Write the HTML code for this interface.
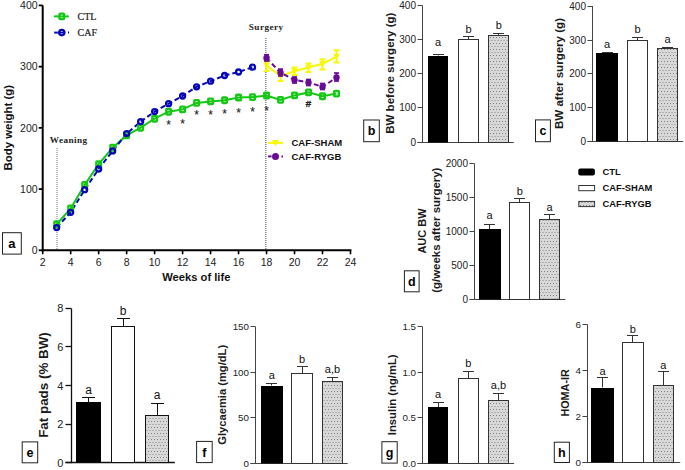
<!DOCTYPE html>
<html><head><meta charset="utf-8"><title>Figure</title>
<style>html,body{margin:0;padding:0;background:#fff;}body{width:685px;height:470px;overflow:hidden;font-family:"Liberation Sans",sans-serif;}svg{display:block;}</style>
</head><body>
<svg width="685" height="470" viewBox="0 0 685 470">
<defs><pattern id="dots" x="0" y="0" width="3" height="6" patternUnits="userSpaceOnUse"><rect width="3" height="6" fill="#d8d8d8"/><rect x="1" y="1" width="1" height="1" fill="#808080"/><rect x="2.5" y="4" width="1" height="1" fill="#8a8a8a"/><rect x="-0.5" y="4" width="1" height="1" fill="#8a8a8a"/></pattern></defs>
<rect width="685" height="470" fill="#fff"/>
<line x1="57" y1="148" x2="57" y2="249" stroke="#777" stroke-width="1" stroke-dasharray="1,1"/>
<line x1="265.8" y1="38" x2="265.8" y2="249" stroke="#6a6a6a" stroke-width="1.2" stroke-dasharray="1,1"/>
<line x1="42.7" y1="5.4" x2="42.7" y2="251.3" stroke="#000" stroke-width="2" />
<line x1="41.7" y1="250.3" x2="351.4" y2="250.3" stroke="#000" stroke-width="2" />
<line x1="38.7" y1="250.3" x2="42.7" y2="250.3" stroke="#000" stroke-width="1.8" />
<text x="37.6" y="254.1" font-size="10.5" text-anchor="end" font-weight="normal" font-family='"Liberation Sans", sans-serif' fill="#222" >0</text>
<line x1="38.7" y1="189.08" x2="42.7" y2="189.08" stroke="#000" stroke-width="1.8" />
<text x="37.6" y="192.88" font-size="10.5" text-anchor="end" font-weight="normal" font-family='"Liberation Sans", sans-serif' fill="#222" >100</text>
<line x1="38.7" y1="127.86" x2="42.7" y2="127.86" stroke="#000" stroke-width="1.8" />
<text x="37.6" y="131.66" font-size="10.5" text-anchor="end" font-weight="normal" font-family='"Liberation Sans", sans-serif' fill="#222" >200</text>
<line x1="38.7" y1="66.64" x2="42.7" y2="66.64" stroke="#000" stroke-width="1.8" />
<text x="37.6" y="70.44" font-size="10.5" text-anchor="end" font-weight="normal" font-family='"Liberation Sans", sans-serif' fill="#222" >300</text>
<line x1="38.7" y1="5.42" x2="42.7" y2="5.42" stroke="#000" stroke-width="1.8" />
<text x="37.6" y="9.22" font-size="10.5" text-anchor="end" font-weight="normal" font-family='"Liberation Sans", sans-serif' fill="#222" >400</text>
<line x1="42.7" y1="250.3" x2="42.7" y2="254.3" stroke="#000" stroke-width="1.6" />
<text x="42.7" y="266" font-size="10.5" text-anchor="middle" font-weight="normal" font-family='"Liberation Sans", sans-serif' fill="#222" >2</text>
<line x1="70.68" y1="250.3" x2="70.68" y2="254.3" stroke="#000" stroke-width="1.6" />
<text x="70.68" y="266" font-size="10.5" text-anchor="middle" font-weight="normal" font-family='"Liberation Sans", sans-serif' fill="#222" >4</text>
<line x1="98.66" y1="250.3" x2="98.66" y2="254.3" stroke="#000" stroke-width="1.6" />
<text x="98.66" y="266" font-size="10.5" text-anchor="middle" font-weight="normal" font-family='"Liberation Sans", sans-serif' fill="#222" >6</text>
<line x1="126.64" y1="250.3" x2="126.64" y2="254.3" stroke="#000" stroke-width="1.6" />
<text x="126.64" y="266" font-size="10.5" text-anchor="middle" font-weight="normal" font-family='"Liberation Sans", sans-serif' fill="#222" >8</text>
<line x1="154.62" y1="250.3" x2="154.62" y2="254.3" stroke="#000" stroke-width="1.6" />
<text x="154.62" y="266" font-size="10.5" text-anchor="middle" font-weight="normal" font-family='"Liberation Sans", sans-serif' fill="#222" >10</text>
<line x1="182.6" y1="250.3" x2="182.6" y2="254.3" stroke="#000" stroke-width="1.6" />
<text x="182.6" y="266" font-size="10.5" text-anchor="middle" font-weight="normal" font-family='"Liberation Sans", sans-serif' fill="#222" >12</text>
<line x1="210.58" y1="250.3" x2="210.58" y2="254.3" stroke="#000" stroke-width="1.6" />
<text x="210.58" y="266" font-size="10.5" text-anchor="middle" font-weight="normal" font-family='"Liberation Sans", sans-serif' fill="#222" >14</text>
<line x1="238.56" y1="250.3" x2="238.56" y2="254.3" stroke="#000" stroke-width="1.6" />
<text x="238.56" y="266" font-size="10.5" text-anchor="middle" font-weight="normal" font-family='"Liberation Sans", sans-serif' fill="#222" >16</text>
<line x1="266.54" y1="250.3" x2="266.54" y2="254.3" stroke="#000" stroke-width="1.6" />
<text x="266.54" y="266" font-size="10.5" text-anchor="middle" font-weight="normal" font-family='"Liberation Sans", sans-serif' fill="#222" >18</text>
<line x1="294.52" y1="250.3" x2="294.52" y2="254.3" stroke="#000" stroke-width="1.6" />
<text x="294.52" y="266" font-size="10.5" text-anchor="middle" font-weight="normal" font-family='"Liberation Sans", sans-serif' fill="#222" >20</text>
<line x1="322.5" y1="250.3" x2="322.5" y2="254.3" stroke="#000" stroke-width="1.6" />
<text x="322.5" y="266" font-size="10.5" text-anchor="middle" font-weight="normal" font-family='"Liberation Sans", sans-serif' fill="#222" >22</text>
<line x1="350.48" y1="250.3" x2="350.48" y2="254.3" stroke="#000" stroke-width="1.6" />
<text x="350.48" y="266" font-size="10.5" text-anchor="middle" font-weight="normal" font-family='"Liberation Sans", sans-serif' fill="#222" >24</text>
<text x="196.3" y="281" font-size="11.2" text-anchor="middle" font-weight="bold" font-family='"Liberation Sans", sans-serif' fill="#111" >Weeks of life</text>
<text transform="translate(11.9,127.7) rotate(-90)" x="0" y="0" font-size="11.4" text-anchor="middle" font-weight="bold" font-family='"Liberation Sans", sans-serif' fill="#111" >Body weight (g)</text>
<rect x="2.5" y="232.7" width="18.8" height="21.4" fill="#fff" stroke="#222" stroke-width="1" />
<text x="11.9" y="248.08" font-size="13" text-anchor="middle" font-weight="bold" font-family='"Liberation Sans", sans-serif' fill="#000" >a</text>
<polyline points="56.69,224.3 70.68,208.4 84.67,184.9 98.66,164.2 112.65,147.8 126.64,135.4 140.63,127.7 154.62,118.7 168.61,111.7 182.6,109.4 196.59,102.9 210.58,101.4 224.57,100.2 238.56,97.5 252.55,97.1 266.54,95.5 280.53,99.9 294.52,95.4 308.51,92.4 322.5,96.3 336.49,93.6" fill="none" stroke="#14c814" stroke-width="2"/>
<polyline points="56.69,227.6 70.68,212.3 84.67,189.7 98.66,169 112.65,150.9 126.64,133.6 140.63,121.6 154.62,111.6 168.61,103.7 182.6,96 196.59,86.8 210.58,81.2 224.57,75.5 238.56,72 252.55,67.2" fill="none" stroke="#0606b8" stroke-width="2" stroke-dasharray="5,3"/>
<polyline points="266.54,65.5 280.53,76 294.52,71.3 308.51,67.5 322.5,63.8 336.49,56.7" fill="none" stroke="#f8f800" stroke-width="2"/>
<polyline points="266.54,57.9 280.53,72.8 294.52,79.9 308.51,82.4 322.5,86.9 336.49,77.5" fill="none" stroke="#6a0a98" stroke-width="2" stroke-dasharray="5,3"/>
<rect x="54.39" y="221.55" width="4.6" height="5.5" fill="none" stroke="#14c814" stroke-width="2.4" rx="0.6"/>
<rect x="68.38" y="205.65" width="4.6" height="5.5" fill="none" stroke="#14c814" stroke-width="2.4" rx="0.6"/>
<rect x="82.37" y="182.15" width="4.6" height="5.5" fill="none" stroke="#14c814" stroke-width="2.4" rx="0.6"/>
<rect x="96.36" y="161.45" width="4.6" height="5.5" fill="none" stroke="#14c814" stroke-width="2.4" rx="0.6"/>
<rect x="110.35" y="145.05" width="4.6" height="5.5" fill="none" stroke="#14c814" stroke-width="2.4" rx="0.6"/>
<rect x="124.34" y="132.65" width="4.6" height="5.5" fill="none" stroke="#14c814" stroke-width="2.4" rx="0.6"/>
<rect x="138.33" y="124.95" width="4.6" height="5.5" fill="none" stroke="#14c814" stroke-width="2.4" rx="0.6"/>
<rect x="152.32" y="115.95" width="4.6" height="5.5" fill="none" stroke="#14c814" stroke-width="2.4" rx="0.6"/>
<rect x="166.31" y="108.95" width="4.6" height="5.5" fill="none" stroke="#14c814" stroke-width="2.4" rx="0.6"/>
<rect x="180.3" y="106.65" width="4.6" height="5.5" fill="none" stroke="#14c814" stroke-width="2.4" rx="0.6"/>
<rect x="194.29" y="100.15" width="4.6" height="5.5" fill="none" stroke="#14c814" stroke-width="2.4" rx="0.6"/>
<rect x="208.28" y="98.65" width="4.6" height="5.5" fill="none" stroke="#14c814" stroke-width="2.4" rx="0.6"/>
<rect x="222.27" y="97.45" width="4.6" height="5.5" fill="none" stroke="#14c814" stroke-width="2.4" rx="0.6"/>
<rect x="236.26" y="94.75" width="4.6" height="5.5" fill="none" stroke="#14c814" stroke-width="2.4" rx="0.6"/>
<rect x="250.25" y="94.35" width="4.6" height="5.5" fill="none" stroke="#14c814" stroke-width="2.4" rx="0.6"/>
<rect x="264.24" y="92.75" width="4.6" height="5.5" fill="none" stroke="#14c814" stroke-width="2.4" rx="0.6"/>
<rect x="278.23" y="97.15" width="4.6" height="5.5" fill="none" stroke="#14c814" stroke-width="2.4" rx="0.6"/>
<rect x="292.22" y="92.65" width="4.6" height="5.5" fill="none" stroke="#14c814" stroke-width="2.4" rx="0.6"/>
<rect x="306.21" y="89.65" width="4.6" height="5.5" fill="none" stroke="#14c814" stroke-width="2.4" rx="0.6"/>
<rect x="320.2" y="93.55" width="4.6" height="5.5" fill="none" stroke="#14c814" stroke-width="2.4" rx="0.6"/>
<rect x="334.19" y="90.85" width="4.6" height="5.5" fill="none" stroke="#14c814" stroke-width="2.4" rx="0.6"/>
<circle cx="56.69" cy="227.6" r="2.5" fill="none" stroke="#0606b8" stroke-width="2.3"/>
<circle cx="70.68" cy="212.3" r="2.5" fill="none" stroke="#0606b8" stroke-width="2.3"/>
<circle cx="84.67" cy="189.7" r="2.5" fill="none" stroke="#0606b8" stroke-width="2.3"/>
<circle cx="98.66" cy="169" r="2.5" fill="none" stroke="#0606b8" stroke-width="2.3"/>
<circle cx="112.65" cy="150.9" r="2.5" fill="none" stroke="#0606b8" stroke-width="2.3"/>
<circle cx="126.64" cy="133.6" r="2.5" fill="none" stroke="#0606b8" stroke-width="2.3"/>
<circle cx="140.63" cy="121.6" r="2.5" fill="none" stroke="#0606b8" stroke-width="2.3"/>
<circle cx="154.62" cy="111.6" r="2.5" fill="none" stroke="#0606b8" stroke-width="2.3"/>
<circle cx="168.61" cy="103.7" r="2.5" fill="none" stroke="#0606b8" stroke-width="2.3"/>
<circle cx="182.6" cy="96" r="2.5" fill="none" stroke="#0606b8" stroke-width="2.3"/>
<circle cx="196.59" cy="86.8" r="2.5" fill="none" stroke="#0606b8" stroke-width="2.3"/>
<circle cx="210.58" cy="81.2" r="2.5" fill="none" stroke="#0606b8" stroke-width="2.3"/>
<circle cx="224.57" cy="75.5" r="2.5" fill="none" stroke="#0606b8" stroke-width="2.3"/>
<circle cx="238.56" cy="72" r="2.5" fill="none" stroke="#0606b8" stroke-width="2.3"/>
<circle cx="252.55" cy="67.2" r="2.5" fill="none" stroke="#0606b8" stroke-width="2.3"/>
<line x1="266.54" y1="60.8" x2="266.54" y2="71" stroke="#f8f800" stroke-width="2" />
<line x1="263.64" y1="60.8" x2="269.44" y2="60.8" stroke="#f8f800" stroke-width="2" />
<line x1="263.64" y1="71" x2="269.44" y2="71" stroke="#f8f800" stroke-width="2" />
<path d="M263.24,62.8 L269.84,62.8 L266.54,68.6 Z" fill="#f8f800"/>
<line x1="280.53" y1="72" x2="280.53" y2="81" stroke="#f8f800" stroke-width="2" />
<line x1="277.63" y1="72" x2="283.43" y2="72" stroke="#f8f800" stroke-width="2" />
<line x1="277.63" y1="81" x2="283.43" y2="81" stroke="#f8f800" stroke-width="2" />
<path d="M277.23,73.3 L283.83,73.3 L280.53,79.1 Z" fill="#f8f800"/>
<line x1="294.52" y1="67.5" x2="294.52" y2="75" stroke="#f8f800" stroke-width="2" />
<line x1="291.62" y1="67.5" x2="297.42" y2="67.5" stroke="#f8f800" stroke-width="2" />
<line x1="291.62" y1="75" x2="297.42" y2="75" stroke="#f8f800" stroke-width="2" />
<path d="M291.22,68.6 L297.82,68.6 L294.52,74.4 Z" fill="#f8f800"/>
<line x1="308.51" y1="63.5" x2="308.51" y2="72" stroke="#f8f800" stroke-width="2" />
<line x1="305.61" y1="63.5" x2="311.41" y2="63.5" stroke="#f8f800" stroke-width="2" />
<line x1="305.61" y1="72" x2="311.41" y2="72" stroke="#f8f800" stroke-width="2" />
<path d="M305.21,64.8 L311.81,64.8 L308.51,70.6 Z" fill="#f8f800"/>
<line x1="322.5" y1="59.3" x2="322.5" y2="69.5" stroke="#f8f800" stroke-width="2" />
<line x1="319.6" y1="59.3" x2="325.4" y2="59.3" stroke="#f8f800" stroke-width="2" />
<line x1="319.6" y1="69.5" x2="325.4" y2="69.5" stroke="#f8f800" stroke-width="2" />
<path d="M319.2,61.1 L325.8,61.1 L322.5,66.9 Z" fill="#f8f800"/>
<line x1="336.49" y1="50.3" x2="336.49" y2="62.5" stroke="#f8f800" stroke-width="2" />
<line x1="333.59" y1="50.3" x2="339.39" y2="50.3" stroke="#f8f800" stroke-width="2" />
<line x1="333.59" y1="62.5" x2="339.39" y2="62.5" stroke="#f8f800" stroke-width="2" />
<path d="M333.19,54 L339.79,54 L336.49,59.8 Z" fill="#f8f800"/>
<line x1="266.54" y1="54.8" x2="266.54" y2="61" stroke="#6a0a98" stroke-width="1.8" />
<line x1="264.04" y1="54.8" x2="269.04" y2="54.8" stroke="#6a0a98" stroke-width="1.7" />
<line x1="264.04" y1="61" x2="269.04" y2="61" stroke="#6a0a98" stroke-width="1.7" />
<circle cx="266.54" cy="57.9" r="3.2" fill="#6a0a98"/>
<line x1="280.53" y1="69.1" x2="280.53" y2="76" stroke="#6a0a98" stroke-width="1.8" />
<line x1="278.03" y1="69.1" x2="283.03" y2="69.1" stroke="#6a0a98" stroke-width="1.7" />
<line x1="278.03" y1="76" x2="283.03" y2="76" stroke="#6a0a98" stroke-width="1.7" />
<circle cx="280.53" cy="72.8" r="3.2" fill="#6a0a98"/>
<line x1="294.52" y1="77" x2="294.52" y2="83" stroke="#6a0a98" stroke-width="1.8" />
<line x1="292.02" y1="77" x2="297.02" y2="77" stroke="#6a0a98" stroke-width="1.7" />
<line x1="292.02" y1="83" x2="297.02" y2="83" stroke="#6a0a98" stroke-width="1.7" />
<circle cx="294.52" cy="79.9" r="3.2" fill="#6a0a98"/>
<line x1="308.51" y1="79.5" x2="308.51" y2="85.5" stroke="#6a0a98" stroke-width="1.8" />
<line x1="306.01" y1="79.5" x2="311.01" y2="79.5" stroke="#6a0a98" stroke-width="1.7" />
<line x1="306.01" y1="85.5" x2="311.01" y2="85.5" stroke="#6a0a98" stroke-width="1.7" />
<circle cx="308.51" cy="82.4" r="3.2" fill="#6a0a98"/>
<line x1="322.5" y1="83.5" x2="322.5" y2="89.5" stroke="#6a0a98" stroke-width="1.8" />
<line x1="320" y1="83.5" x2="325" y2="83.5" stroke="#6a0a98" stroke-width="1.7" />
<line x1="320" y1="89.5" x2="325" y2="89.5" stroke="#6a0a98" stroke-width="1.7" />
<circle cx="322.5" cy="86.9" r="3.2" fill="#6a0a98"/>
<line x1="336.49" y1="73" x2="336.49" y2="81" stroke="#6a0a98" stroke-width="1.8" />
<line x1="333.99" y1="73" x2="338.99" y2="73" stroke="#6a0a98" stroke-width="1.7" />
<line x1="333.99" y1="81" x2="338.99" y2="81" stroke="#6a0a98" stroke-width="1.7" />
<circle cx="336.49" cy="77.5" r="3.2" fill="#6a0a98"/>
<text x="168.61" y="129.4" font-size="12" text-anchor="middle" font-weight="normal" font-family='"Liberation Sans", sans-serif' fill="#222" stroke="#222" stroke-width="0.1">*</text>
<text x="182.6" y="127.5" font-size="12" text-anchor="middle" font-weight="normal" font-family='"Liberation Sans", sans-serif' fill="#222" stroke="#222" stroke-width="0.1">*</text>
<text x="196.59" y="119.3" font-size="12" text-anchor="middle" font-weight="normal" font-family='"Liberation Sans", sans-serif' fill="#222" stroke="#222" stroke-width="0.1">*</text>
<text x="210.58" y="119.3" font-size="12" text-anchor="middle" font-weight="normal" font-family='"Liberation Sans", sans-serif' fill="#222" stroke="#222" stroke-width="0.1">*</text>
<text x="224.57" y="118.3" font-size="12" text-anchor="middle" font-weight="normal" font-family='"Liberation Sans", sans-serif' fill="#222" stroke="#222" stroke-width="0.1">*</text>
<text x="238.56" y="116.8" font-size="12" text-anchor="middle" font-weight="normal" font-family='"Liberation Sans", sans-serif' fill="#222" stroke="#222" stroke-width="0.1">*</text>
<text x="252.55" y="116" font-size="12" text-anchor="middle" font-weight="normal" font-family='"Liberation Sans", sans-serif' fill="#222" stroke="#222" stroke-width="0.1">*</text>
<text x="266.54" y="114.9" font-size="12" text-anchor="middle" font-weight="normal" font-family='"Liberation Sans", sans-serif' fill="#222" stroke="#222" stroke-width="0.1">*</text>
<text x="308.51" y="107.3" font-size="9.5" text-anchor="middle" font-weight="normal" font-family='"Liberation Sans", sans-serif' fill="#222" stroke="#222" stroke-width="0.4">#</text>
<text x="49.8" y="143" font-size="9.2" text-anchor="start" font-weight="bold" font-family='"Liberation Serif", serif' fill="#222" letter-spacing="0.45">Weaning</text>
<text x="248.8" y="29.9" font-size="9.2" text-anchor="start" font-weight="bold" font-family='"Liberation Serif", serif' fill="#222" letter-spacing="0.45">Surgery</text>
<line x1="53.9" y1="16.4" x2="68.8" y2="16.4" stroke="#14c814" stroke-width="2" />
<rect x="59.5" y="13.65" width="4.6" height="5.5" fill="none" stroke="#14c814" stroke-width="2.4" rx="0.6"/>
<text x="77.6" y="20.2" font-size="10" text-anchor="start" font-weight="normal" font-family='"Liberation Serif", serif' fill="#222" stroke="#222" stroke-width="0.2">CTL</text>
<line x1="54.2" y1="32.6" x2="57.8" y2="32.6" stroke="#0606b8" stroke-width="2" />
<line x1="68" y1="32.6" x2="69" y2="32.6" stroke="#0606b8" stroke-width="2" />
<line x1="57.8" y1="32.6" x2="63.5" y2="32.6" stroke="#0606b8" stroke-width="1.4" />
<circle cx="61.8" cy="32.6" r="2.6" fill="none" stroke="#0606b8" stroke-width="2.4"/>
<text x="77.6" y="36.4" font-size="10" text-anchor="start" font-weight="normal" font-family='"Liberation Serif", serif' fill="#222" stroke="#222" stroke-width="0.2">CAF</text>
<line x1="268.1" y1="142.9" x2="283" y2="142.9" stroke="#f8f800" stroke-width="2" />
<path d="M271.9,139.9 L279.1,139.9 L275.5,146.3 Z" fill="#f8f800"/>
<text x="291.5" y="146.3" font-size="9.5" text-anchor="start" font-weight="bold" font-family='"Liberation Sans", sans-serif' fill="#111" >CAF-SHAM</text>
<line x1="268.1" y1="156.4" x2="271.6" y2="156.4" stroke="#6a0a98" stroke-width="2" />
<line x1="281.5" y1="156.4" x2="283" y2="156.4" stroke="#6a0a98" stroke-width="2" />
<circle cx="275.5" cy="156.4" r="3.5" fill="#6a0a98"/>
<text x="291.5" y="159.8" font-size="9.5" text-anchor="start" font-weight="bold" font-family='"Liberation Sans", sans-serif' fill="#111" >CAF-RYGB</text>
<line x1="422.5" y1="5.4" x2="422.5" y2="143" stroke="#444" stroke-width="1" />
<line x1="417.5" y1="142.5" x2="513.8" y2="142.5" stroke="#444" stroke-width="1" />
<line x1="417.5" y1="142.5" x2="422.5" y2="142.5" stroke="#444" stroke-width="1" />
<text x="416" y="145.6" font-size="10" text-anchor="end" font-weight="normal" font-family='"Liberation Sans", sans-serif' fill="#222" >0</text>
<line x1="417.5" y1="107.5" x2="422.5" y2="107.5" stroke="#444" stroke-width="1" />
<text x="416" y="111.45" font-size="10" text-anchor="end" font-weight="normal" font-family='"Liberation Sans", sans-serif' fill="#222" >100</text>
<line x1="417.5" y1="73.5" x2="422.5" y2="73.5" stroke="#444" stroke-width="1" />
<text x="416" y="77.3" font-size="10" text-anchor="end" font-weight="normal" font-family='"Liberation Sans", sans-serif' fill="#222" >200</text>
<line x1="417.5" y1="39.5" x2="422.5" y2="39.5" stroke="#444" stroke-width="1" />
<text x="416" y="43.15" font-size="10" text-anchor="end" font-weight="normal" font-family='"Liberation Sans", sans-serif' fill="#222" >300</text>
<line x1="417.5" y1="5.5" x2="422.5" y2="5.5" stroke="#444" stroke-width="1" />
<text x="416" y="9" font-size="10" text-anchor="end" font-weight="normal" font-family='"Liberation Sans", sans-serif' fill="#222" >400</text>
<line x1="438.5" y1="54.5" x2="438.5" y2="55.5" stroke="#333" stroke-width="1" />
<line x1="433" y1="54.5" x2="444" y2="54.5" stroke="#333" stroke-width="1" />
<rect x="428" y="56" width="20" height="86.5" fill="#000" stroke="none" stroke-width="1" />
<text x="438.15" y="46.3" font-size="11" text-anchor="middle" font-weight="normal" font-family='"Liberation Sans", sans-serif' fill="#111" >a</text>
<line x1="468.5" y1="36.5" x2="468.5" y2="39.5" stroke="#333" stroke-width="1" />
<line x1="463" y1="36.5" x2="474" y2="36.5" stroke="#333" stroke-width="1" />
<rect x="458.5" y="39.5" width="20" height="103" fill="#fff" stroke="#333" stroke-width="1" />
<text x="468.65" y="32.5" font-size="11" text-anchor="middle" font-weight="normal" font-family='"Liberation Sans", sans-serif' fill="#111" >b</text>
<line x1="498.5" y1="33.5" x2="498.5" y2="35.5" stroke="#333" stroke-width="1" />
<line x1="493" y1="33.5" x2="504" y2="33.5" stroke="#333" stroke-width="1" />
<rect x="488.5" y="35.5" width="20" height="107" fill="url(#dots)" stroke="#333" stroke-width="1" />
<text x="498.75" y="28.7" font-size="11" text-anchor="middle" font-weight="normal" font-family='"Liberation Sans", sans-serif' fill="#111" >b</text>
<text transform="translate(394.3,73.2) rotate(-90)" x="0" y="0" font-size="11.55" text-anchor="middle" font-weight="bold" font-family='"Liberation Sans", sans-serif' fill="#1a1a1a" >BW before surgery (g)</text>
<rect x="363.7" y="120" width="15.6" height="21.7" fill="#fff" stroke="#222" stroke-width="1" />
<text x="371.5" y="135.35" font-size="12.5" text-anchor="middle" font-weight="bold" font-family='"Liberation Sans", sans-serif' fill="#000" >b</text>
<line x1="592.5" y1="6" x2="592.5" y2="142" stroke="#444" stroke-width="1" />
<line x1="587.5" y1="141.5" x2="683.2" y2="141.5" stroke="#444" stroke-width="1" />
<line x1="587.5" y1="141.5" x2="592.5" y2="141.5" stroke="#444" stroke-width="1" />
<text x="586" y="145" font-size="10" text-anchor="end" font-weight="normal" font-family='"Liberation Sans", sans-serif' fill="#222" >0</text>
<line x1="587.5" y1="107.5" x2="592.5" y2="107.5" stroke="#444" stroke-width="1" />
<text x="586" y="111.2" font-size="10" text-anchor="end" font-weight="normal" font-family='"Liberation Sans", sans-serif' fill="#222" >100</text>
<line x1="587.5" y1="73.5" x2="592.5" y2="73.5" stroke="#444" stroke-width="1" />
<text x="586" y="77.4" font-size="10" text-anchor="end" font-weight="normal" font-family='"Liberation Sans", sans-serif' fill="#222" >200</text>
<line x1="587.5" y1="40.5" x2="592.5" y2="40.5" stroke="#444" stroke-width="1" />
<text x="586" y="43.6" font-size="10" text-anchor="end" font-weight="normal" font-family='"Liberation Sans", sans-serif' fill="#222" >300</text>
<line x1="587.5" y1="6.5" x2="592.5" y2="6.5" stroke="#444" stroke-width="1" />
<text x="586" y="9.8" font-size="10" text-anchor="end" font-weight="normal" font-family='"Liberation Sans", sans-serif' fill="#222" >400</text>
<line x1="607.5" y1="52.5" x2="607.5" y2="53.5" stroke="#333" stroke-width="1" />
<line x1="602" y1="52.5" x2="613" y2="52.5" stroke="#333" stroke-width="1" />
<rect x="596" y="53" width="22" height="88.5" fill="#000" stroke="none" stroke-width="1" />
<text x="607.15" y="48.3" font-size="11" text-anchor="middle" font-weight="normal" font-family='"Liberation Sans", sans-serif' fill="#111" >a</text>
<line x1="637.5" y1="37.5" x2="637.5" y2="40.5" stroke="#333" stroke-width="1" />
<line x1="632" y1="37.5" x2="643" y2="37.5" stroke="#333" stroke-width="1" />
<rect x="627.5" y="40.5" width="20" height="101" fill="#fff" stroke="#333" stroke-width="1" />
<text x="637.5" y="33.1" font-size="11" text-anchor="middle" font-weight="normal" font-family='"Liberation Sans", sans-serif' fill="#111" >b</text>
<line x1="667.5" y1="47.5" x2="667.5" y2="48.5" stroke="#333" stroke-width="1" />
<line x1="662" y1="47.5" x2="673" y2="47.5" stroke="#333" stroke-width="1" />
<rect x="657.5" y="48.5" width="20" height="93" fill="url(#dots)" stroke="#333" stroke-width="1" />
<text x="667.65" y="42.6" font-size="11" text-anchor="middle" font-weight="normal" font-family='"Liberation Sans", sans-serif' fill="#111" >a</text>
<text transform="translate(562.8,73.5) rotate(-90)" x="0" y="0" font-size="11.55" text-anchor="middle" font-weight="bold" font-family='"Liberation Sans", sans-serif' fill="#1a1a1a" >BW after surgery (g)</text>
<rect x="535.5" y="119.9" width="14.9" height="21.8" fill="#fff" stroke="#222" stroke-width="1" />
<text x="542.95" y="135.3" font-size="12.5" text-anchor="middle" font-weight="bold" font-family='"Liberation Sans", sans-serif' fill="#000" >c</text>
<line x1="474.5" y1="163.6" x2="474.5" y2="300" stroke="#444" stroke-width="1" />
<line x1="469.5" y1="299.5" x2="565.3" y2="299.5" stroke="#444" stroke-width="1" />
<line x1="469.5" y1="299.5" x2="474.5" y2="299.5" stroke="#444" stroke-width="1" />
<text x="468" y="302.8" font-size="10" text-anchor="end" font-weight="normal" font-family='"Liberation Sans", sans-serif' fill="#222" >0</text>
<line x1="469.5" y1="265.5" x2="474.5" y2="265.5" stroke="#444" stroke-width="1" />
<text x="468" y="268.95" font-size="10" text-anchor="end" font-weight="normal" font-family='"Liberation Sans", sans-serif' fill="#222" >500</text>
<line x1="469.5" y1="231.5" x2="474.5" y2="231.5" stroke="#444" stroke-width="1" />
<text x="468" y="235.1" font-size="10" text-anchor="end" font-weight="normal" font-family='"Liberation Sans", sans-serif' fill="#222" >1000</text>
<line x1="469.5" y1="197.5" x2="474.5" y2="197.5" stroke="#444" stroke-width="1" />
<text x="468" y="201.25" font-size="10" text-anchor="end" font-weight="normal" font-family='"Liberation Sans", sans-serif' fill="#222" >1500</text>
<line x1="469.5" y1="163.5" x2="474.5" y2="163.5" stroke="#444" stroke-width="1" />
<text x="468" y="167.4" font-size="10" text-anchor="end" font-weight="normal" font-family='"Liberation Sans", sans-serif' fill="#222" >2000</text>
<line x1="489.5" y1="224.5" x2="489.5" y2="229.5" stroke="#333" stroke-width="1" />
<line x1="484" y1="224.5" x2="495" y2="224.5" stroke="#333" stroke-width="1" />
<rect x="479" y="229" width="22" height="70.5" fill="#000" stroke="none" stroke-width="1" />
<text x="489.6" y="218.5" font-size="11" text-anchor="middle" font-weight="normal" font-family='"Liberation Sans", sans-serif' fill="#111" >a</text>
<line x1="519.5" y1="198.5" x2="519.5" y2="202.5" stroke="#333" stroke-width="1" />
<line x1="514" y1="198.5" x2="525" y2="198.5" stroke="#333" stroke-width="1" />
<rect x="509.5" y="202.5" width="20" height="97" fill="#fff" stroke="#333" stroke-width="1" />
<text x="519.7" y="194.8" font-size="11" text-anchor="middle" font-weight="normal" font-family='"Liberation Sans", sans-serif' fill="#111" >b</text>
<line x1="549.5" y1="214.5" x2="549.5" y2="219.5" stroke="#333" stroke-width="1" />
<line x1="544" y1="214.5" x2="555" y2="214.5" stroke="#333" stroke-width="1" />
<rect x="539.5" y="219.5" width="20" height="80" fill="url(#dots)" stroke="#333" stroke-width="1" />
<text x="549.45" y="210.8" font-size="11" text-anchor="middle" font-weight="normal" font-family='"Liberation Sans", sans-serif' fill="#111" >a</text>
<text transform="translate(426.4,231) rotate(-90)" x="0" y="0" font-size="11.0" text-anchor="middle" font-weight="bold" font-family='"Liberation Sans", sans-serif' fill="#1a1a1a" >AUC BW</text>
<text transform="translate(440.4,230.2) rotate(-90)" x="0" y="0" font-size="11.45" text-anchor="middle" font-weight="bold" font-family='"Liberation Sans", sans-serif' fill="#1a1a1a" >(g/weeks after surgery)</text>
<rect x="404.4" y="270.8" width="14.7" height="21" fill="#fff" stroke="#222" stroke-width="1" />
<text x="411.75" y="285.8" font-size="12.5" text-anchor="middle" font-weight="bold" font-family='"Liberation Sans", sans-serif' fill="#000" >d</text>
<rect x="578.3" y="168.6" width="16.6" height="6.8" rx="2" fill="#000"/>
<text x="602.4" y="175.4" font-size="9.4" text-anchor="start" font-weight="bold" font-family='"Liberation Sans", sans-serif' fill="#111" >CTL</text>
<rect x="578.8" y="185.5" width="15.8" height="5.2" fill="#fff" stroke="#333" stroke-width="1" />
<text x="602.4" y="191.4" font-size="9.4" text-anchor="start" font-weight="bold" font-family='"Liberation Sans", sans-serif' fill="#111" >CAF-SHAM</text>
<rect x="578.8" y="201.4" width="15.8" height="5.2" fill="url(#dots)" stroke="#333" stroke-width="1" />
<text x="602.4" y="207.2" font-size="9.4" text-anchor="start" font-weight="bold" font-family='"Liberation Sans", sans-serif' fill="#111" >CAF-RYGB</text>
<line x1="71.5" y1="308.6" x2="71.5" y2="463.15" stroke="#111" stroke-width="1.3" />
<line x1="65.5" y1="462.5" x2="174.8" y2="462.5" stroke="#111" stroke-width="1.3" />
<line x1="65.5" y1="462.5" x2="71.5" y2="462.5" stroke="#111" stroke-width="1.3" />
<text x="63.3" y="466.86" font-size="11" text-anchor="end" font-weight="normal" font-family='"Liberation Sans", sans-serif' fill="#222" >0</text>
<line x1="65.5" y1="424.5" x2="71.5" y2="424.5" stroke="#111" stroke-width="1.3" />
<text x="63.3" y="428.21" font-size="11" text-anchor="end" font-weight="normal" font-family='"Liberation Sans", sans-serif' fill="#222" >2</text>
<line x1="65.5" y1="385.5" x2="71.5" y2="385.5" stroke="#111" stroke-width="1.3" />
<text x="63.3" y="389.56" font-size="11" text-anchor="end" font-weight="normal" font-family='"Liberation Sans", sans-serif' fill="#222" >4</text>
<line x1="65.5" y1="346.5" x2="71.5" y2="346.5" stroke="#111" stroke-width="1.3" />
<text x="63.3" y="350.91" font-size="11" text-anchor="end" font-weight="normal" font-family='"Liberation Sans", sans-serif' fill="#222" >6</text>
<line x1="65.5" y1="308.5" x2="71.5" y2="308.5" stroke="#111" stroke-width="1.3" />
<text x="63.3" y="312.26" font-size="11" text-anchor="end" font-weight="normal" font-family='"Liberation Sans", sans-serif' fill="#222" >8</text>
<line x1="88.5" y1="397.5" x2="88.5" y2="402.5" stroke="#111" stroke-width="1" />
<line x1="82" y1="397.5" x2="95" y2="397.5" stroke="#111" stroke-width="1" />
<rect x="76" y="402" width="25" height="60.5" fill="#000" stroke="none" stroke-width="1" />
<text x="88.6" y="393.8" font-size="12" text-anchor="middle" font-weight="normal" font-family='"Liberation Sans", sans-serif' fill="#111" >a</text>
<line x1="123.5" y1="318.5" x2="123.5" y2="326.5" stroke="#111" stroke-width="1" />
<line x1="117" y1="318.5" x2="130" y2="318.5" stroke="#111" stroke-width="1" />
<rect x="111.5" y="326.5" width="23" height="136" fill="#fff" stroke="#111" stroke-width="1" />
<text x="123.05" y="314.9" font-size="12" text-anchor="middle" font-weight="normal" font-family='"Liberation Sans", sans-serif' fill="#111" >b</text>
<line x1="157.5" y1="403.5" x2="157.5" y2="415.5" stroke="#111" stroke-width="1" />
<line x1="151" y1="403.5" x2="164" y2="403.5" stroke="#111" stroke-width="1" />
<rect x="145.5" y="415.5" width="23" height="47" fill="url(#dots)" stroke="#111" stroke-width="1" />
<text x="157.1" y="398.8" font-size="12" text-anchor="middle" font-weight="normal" font-family='"Liberation Sans", sans-serif' fill="#111" >a</text>
<text transform="translate(48.1,385) rotate(-90)" x="0" y="0" font-size="13.4" text-anchor="middle" font-weight="bold" font-family='"Liberation Sans", sans-serif' fill="#1a1a1a" >Fat pads (% BW)</text>
<rect x="22.2" y="441.9" width="15.5" height="20.9" fill="#fff" stroke="#222" stroke-width="1" />
<text x="29.95" y="456.85" font-size="12.5" text-anchor="middle" font-weight="bold" font-family='"Liberation Sans", sans-serif' fill="#000" >e</text>
<line x1="255.5" y1="326.8" x2="255.5" y2="464" stroke="#444" stroke-width="1" />
<line x1="250.5" y1="463.5" x2="347.7" y2="463.5" stroke="#444" stroke-width="1" />
<line x1="250.5" y1="463.5" x2="255.5" y2="463.5" stroke="#444" stroke-width="1" />
<text x="249" y="466.73" font-size="9.8" text-anchor="end" font-weight="normal" font-family='"Liberation Sans", sans-serif' fill="#222" >0</text>
<line x1="250.5" y1="417.5" x2="255.5" y2="417.5" stroke="#444" stroke-width="1" />
<text x="249" y="421.23" font-size="9.8" text-anchor="end" font-weight="normal" font-family='"Liberation Sans", sans-serif' fill="#222" >50</text>
<line x1="250.5" y1="372.5" x2="255.5" y2="372.5" stroke="#444" stroke-width="1" />
<text x="249" y="375.73" font-size="9.8" text-anchor="end" font-weight="normal" font-family='"Liberation Sans", sans-serif' fill="#222" >100</text>
<line x1="250.5" y1="326.5" x2="255.5" y2="326.5" stroke="#444" stroke-width="1" />
<text x="249" y="330.23" font-size="9.8" text-anchor="end" font-weight="normal" font-family='"Liberation Sans", sans-serif' fill="#222" >150</text>
<line x1="271.5" y1="383.5" x2="271.5" y2="385.5" stroke="#333" stroke-width="1" />
<line x1="266" y1="383.5" x2="277" y2="383.5" stroke="#333" stroke-width="1" />
<rect x="261" y="386" width="22" height="77.5" fill="#000" stroke="none" stroke-width="1" />
<text x="271.8" y="379.2" font-size="11" text-anchor="middle" font-weight="normal" font-family='"Liberation Sans", sans-serif' fill="#111" >a</text>
<line x1="302.5" y1="366.5" x2="302.5" y2="373.5" stroke="#333" stroke-width="1" />
<line x1="297" y1="366.5" x2="308" y2="366.5" stroke="#333" stroke-width="1" />
<rect x="291.5" y="373.5" width="21" height="90" fill="#fff" stroke="#333" stroke-width="1" />
<text x="302.15" y="362.8" font-size="11" text-anchor="middle" font-weight="normal" font-family='"Liberation Sans", sans-serif' fill="#111" >b</text>
<line x1="332.5" y1="377.5" x2="332.5" y2="381.5" stroke="#333" stroke-width="1" />
<line x1="327" y1="377.5" x2="338" y2="377.5" stroke="#333" stroke-width="1" />
<rect x="322.5" y="381.5" width="20" height="82" fill="url(#dots)" stroke="#333" stroke-width="1" />
<text x="332.5" y="373" font-size="11" text-anchor="middle" font-weight="normal" font-family='"Liberation Sans", sans-serif' fill="#111" >a,b</text>
<text transform="translate(226.4,394.8) rotate(-90)" x="0" y="0" font-size="11.16" text-anchor="middle" font-weight="bold" font-family='"Liberation Sans", sans-serif' fill="#1a1a1a" >Glycaemia (mg/dL)</text>
<rect x="196.6" y="441.4" width="15.6" height="21.2" fill="#fff" stroke="#222" stroke-width="1" />
<text x="204.4" y="456.5" font-size="12.5" text-anchor="middle" font-weight="bold" font-family='"Liberation Sans", sans-serif' fill="#000" >f</text>
<line x1="422.5" y1="326.8" x2="422.5" y2="464" stroke="#444" stroke-width="1" />
<line x1="417.5" y1="463.5" x2="514.1" y2="463.5" stroke="#444" stroke-width="1" />
<line x1="417.5" y1="463.5" x2="422.5" y2="463.5" stroke="#444" stroke-width="1" />
<text x="416" y="466.53" font-size="9.8" text-anchor="end" font-weight="normal" font-family='"Liberation Sans", sans-serif' fill="#222" >0.0</text>
<line x1="417.5" y1="417.5" x2="422.5" y2="417.5" stroke="#444" stroke-width="1" />
<text x="416" y="421.03" font-size="9.8" text-anchor="end" font-weight="normal" font-family='"Liberation Sans", sans-serif' fill="#222" >0.5</text>
<line x1="417.5" y1="372.5" x2="422.5" y2="372.5" stroke="#444" stroke-width="1" />
<text x="416" y="375.53" font-size="9.8" text-anchor="end" font-weight="normal" font-family='"Liberation Sans", sans-serif' fill="#222" >1.0</text>
<line x1="417.5" y1="326.5" x2="422.5" y2="326.5" stroke="#444" stroke-width="1" />
<text x="416" y="330.03" font-size="9.8" text-anchor="end" font-weight="normal" font-family='"Liberation Sans", sans-serif' fill="#222" >1.5</text>
<line x1="438.5" y1="402.5" x2="438.5" y2="407.5" stroke="#333" stroke-width="1" />
<line x1="433" y1="402.5" x2="444" y2="402.5" stroke="#333" stroke-width="1" />
<rect x="428" y="407" width="20" height="56.5" fill="#000" stroke="none" stroke-width="1" />
<text x="438.1" y="397.9" font-size="11" text-anchor="middle" font-weight="normal" font-family='"Liberation Sans", sans-serif' fill="#111" >a</text>
<line x1="468.5" y1="371.5" x2="468.5" y2="378.5" stroke="#333" stroke-width="1" />
<line x1="463" y1="371.5" x2="474" y2="371.5" stroke="#333" stroke-width="1" />
<rect x="458.5" y="378.5" width="20" height="85" fill="#fff" stroke="#333" stroke-width="1" />
<text x="468.35" y="366.6" font-size="11" text-anchor="middle" font-weight="normal" font-family='"Liberation Sans", sans-serif' fill="#111" >b</text>
<line x1="498.5" y1="393.5" x2="498.5" y2="400.5" stroke="#333" stroke-width="1" />
<line x1="493" y1="393.5" x2="504" y2="393.5" stroke="#333" stroke-width="1" />
<rect x="488.5" y="400.5" width="20" height="63" fill="url(#dots)" stroke="#333" stroke-width="1" />
<text x="498.45" y="388.6" font-size="11" text-anchor="middle" font-weight="normal" font-family='"Liberation Sans", sans-serif' fill="#111" >a,b</text>
<text transform="translate(395.8,394.8) rotate(-90)" x="0" y="0" font-size="11.27" text-anchor="middle" font-weight="bold" font-family='"Liberation Sans", sans-serif' fill="#1a1a1a" >Insulin (ng/mL)</text>
<rect x="381.9" y="441.7" width="15.3" height="21.4" fill="#fff" stroke="#222" stroke-width="1" />
<text x="389.55" y="456.9" font-size="12.5" text-anchor="middle" font-weight="bold" font-family='"Liberation Sans", sans-serif' fill="#000" >g</text>
<line x1="587.5" y1="324.5" x2="587.5" y2="463" stroke="#444" stroke-width="1" />
<line x1="582.5" y1="462.5" x2="680.2" y2="462.5" stroke="#444" stroke-width="1" />
<line x1="582.5" y1="462.5" x2="587.5" y2="462.5" stroke="#444" stroke-width="1" />
<text x="581" y="466.13" font-size="9.8" text-anchor="end" font-weight="normal" font-family='"Liberation Sans", sans-serif' fill="#222" >0</text>
<line x1="582.5" y1="416.5" x2="587.5" y2="416.5" stroke="#444" stroke-width="1" />
<text x="581" y="420.18" font-size="9.8" text-anchor="end" font-weight="normal" font-family='"Liberation Sans", sans-serif' fill="#222" >2</text>
<line x1="582.5" y1="370.5" x2="587.5" y2="370.5" stroke="#444" stroke-width="1" />
<text x="581" y="374.23" font-size="9.8" text-anchor="end" font-weight="normal" font-family='"Liberation Sans", sans-serif' fill="#222" >4</text>
<line x1="582.5" y1="324.5" x2="587.5" y2="324.5" stroke="#444" stroke-width="1" />
<text x="581" y="328.28" font-size="9.8" text-anchor="end" font-weight="normal" font-family='"Liberation Sans", sans-serif' fill="#222" >6</text>
<line x1="602.5" y1="377.5" x2="602.5" y2="387.5" stroke="#333" stroke-width="1" />
<line x1="597" y1="377.5" x2="608" y2="377.5" stroke="#333" stroke-width="1" />
<rect x="591" y="388" width="23" height="74.5" fill="#000" stroke="none" stroke-width="1" />
<text x="602.55" y="375" font-size="11" text-anchor="middle" font-weight="normal" font-family='"Liberation Sans", sans-serif' fill="#111" >a</text>
<line x1="632.5" y1="335.5" x2="632.5" y2="342.5" stroke="#333" stroke-width="1" />
<line x1="627" y1="335.5" x2="638" y2="335.5" stroke="#333" stroke-width="1" />
<rect x="622.5" y="342.5" width="21" height="120" fill="#fff" stroke="#333" stroke-width="1" />
<text x="632.85" y="332.8" font-size="11" text-anchor="middle" font-weight="normal" font-family='"Liberation Sans", sans-serif' fill="#111" >b</text>
<line x1="663.5" y1="371.5" x2="663.5" y2="385.5" stroke="#333" stroke-width="1" />
<line x1="658" y1="371.5" x2="669" y2="371.5" stroke="#333" stroke-width="1" />
<rect x="653.5" y="385.5" width="20" height="77" fill="url(#dots)" stroke="#333" stroke-width="1" />
<text x="663.4" y="368.9" font-size="11" text-anchor="middle" font-weight="normal" font-family='"Liberation Sans", sans-serif' fill="#111" >a</text>
<text transform="translate(569.4,392.9) rotate(-90)" x="0" y="0" font-size="10.8" text-anchor="middle" font-weight="bold" font-family='"Liberation Sans", sans-serif' fill="#1a1a1a" >HOMA-IR</text>
<rect x="554.3" y="442.2" width="15.1" height="20.3" fill="#fff" stroke="#222" stroke-width="1" />
<text x="561.85" y="456.85" font-size="12.5" text-anchor="middle" font-weight="bold" font-family='"Liberation Sans", sans-serif' fill="#000" >h</text>
</svg>
</body></html>
